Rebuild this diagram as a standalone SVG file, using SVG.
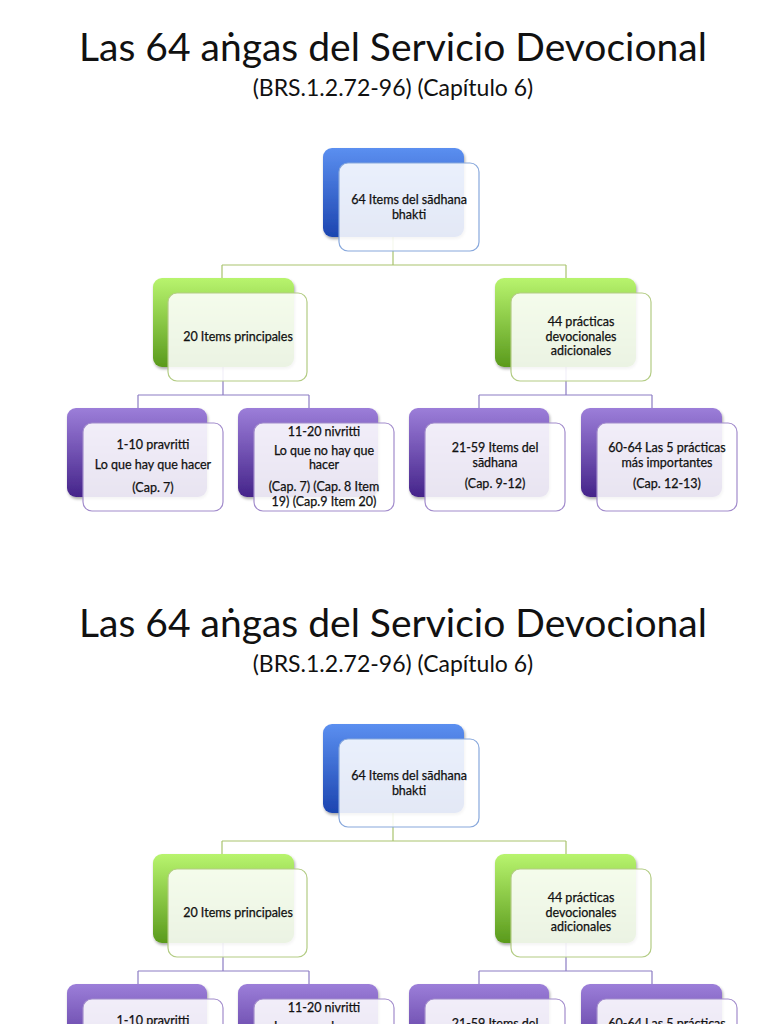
<svg xmlns="http://www.w3.org/2000/svg" width="768" height="1024" viewBox="0 0 768 1024">
<defs>
<linearGradient id="gBlue" x1="0" y1="0" x2="0" y2="1"><stop offset="0" stop-color="#5b8ff0"/><stop offset="1" stop-color="#1c45b0"/></linearGradient>
<linearGradient id="gGreen" x1="0" y1="0" x2="0" y2="1"><stop offset="0" stop-color="#b8f46e"/><stop offset="1" stop-color="#5a9a1c"/></linearGradient>
<linearGradient id="gPurple" x1="0" y1="0" x2="0" y2="1"><stop offset="0" stop-color="#9c7ed9"/><stop offset="1" stop-color="#45248a"/></linearGradient>
<filter id="sh" x="-10%" y="-10%" width="130%" height="130%"><feGaussianBlur in="SourceAlpha" stdDeviation="1.5"/><feOffset dx="1" dy="1.5"/><feComponentTransfer><feFuncA type="linear" slope="0.35"/></feComponentTransfer><feMerge><feMergeNode/><feMergeNode in="SourceGraphic"/></feMerge></filter>
</defs>
<style>
.title{font-family:"Lato","Liberation Sans",sans-serif;font-size:39px;fill:#111;text-anchor:middle}
.sub{font-family:"Lato","Liberation Sans",sans-serif;font-size:23px;fill:#111;text-anchor:middle}
.t{font-family:"Lato","Liberation Sans",sans-serif;font-size:12.5px;fill:#111;stroke:#111;stroke-width:0.25;text-anchor:middle}
.back{filter:url(#sh)}
.fb{fill:#ffffff;fill-opacity:0.88;stroke:#88a8dc;stroke-width:1.2}
.fg{fill:#ffffff;fill-opacity:0.88;stroke:#b3cc84;stroke-width:1.2}
.fp{fill:#ffffff;fill-opacity:0.88;stroke:#a28ccc;stroke-width:1.2}
.cg{fill:none;stroke:#a9c46e;stroke-width:1.2}
.cp{fill:none;stroke:#8c7cc4;stroke-width:1.2}
</style>
<rect width="768" height="1024" fill="#ffffff"/>

<!-- Copy 1 -->
<g id="copy1">
<text class="title" x="393" y="61">Las 64 aṅgas del Servicio Devocional</text>
<text class="sub" x="393" y="96">(BRS.1.2.72-96) (Capítulo 6)</text>
<g id="connectors1">
<path class="cg" d="M393 237V265M222 265H566M222 265V278M566 265V278"/>
<path class="cp" d="M223 367V395M138 395H309M138 395V408M309 395V408"/>
<path class="cp" d="M566 367V395M479 395H652M479 395V408M652 395V408"/>
</g>
<g id="n_root1"><rect class="back" x="323" y="148" width="141" height="89" rx="9" fill="url(#gBlue)"/><rect class="fb" x="339" y="163" width="140" height="88" rx="9"/>
<text class="t" x="409" y="204">64 Items del sādhana</text><text class="t" x="409" y="219">bhakti</text></g>
<g id="n_20_1"><rect class="back" x="153" y="278" width="141" height="89" rx="9" fill="url(#gGreen)"/><rect class="fg" x="168" y="293" width="139" height="88" rx="9"/>
<text class="t" x="238" y="341">20 Items principales</text></g>
<g id="n_44_1"><rect class="back" x="495" y="278" width="141" height="89" rx="9" fill="url(#gGreen)"/><rect class="fg" x="511" y="293" width="140" height="88" rx="9"/>
<text class="t" x="581" y="326">44 prácticas</text><text class="t" x="581" y="341">devocionales</text><text class="t" x="581" y="355">adicionales</text></g>
<g id="n_1_10_1"><rect class="back" x="67" y="408" width="140" height="89" rx="9" fill="url(#gPurple)"/><rect class="fp" x="83" y="423" width="140" height="88" rx="9"/>
<text class="t" x="153" y="449">1-10 pravritti</text><text class="t" x="153" y="469">Lo que hay que hacer</text><text class="t" x="153" y="492">(Cap. 7)</text></g>
<g id="n_11_20_1"><rect class="back" x="238" y="408" width="140" height="89" rx="9" fill="url(#gPurple)"/><rect class="fp" x="254" y="423" width="140" height="88" rx="9"/>
<text class="t" x="324" y="436">11-20 nivritti</text><text class="t" x="324" y="455">Lo que no hay que</text><text class="t" x="324" y="469">hacer</text><text class="t" x="324" y="491">(Cap. 7) (Cap. 8 Item</text><text class="t" x="324" y="506">19) (Cap.9 Item 20)</text></g>
<g id="n_21_59_1"><rect class="back" x="409" y="408" width="140" height="89" rx="9" fill="url(#gPurple)"/><rect class="fp" x="425" y="423" width="140" height="88" rx="9"/>
<text class="t" x="495" y="452">21-59 Items del</text><text class="t" x="495" y="467">sādhana</text><text class="t" x="495" y="488">(Cap. 9-12)</text></g>
<g id="n_60_64_1"><rect class="back" x="581" y="408" width="141" height="89" rx="9" fill="url(#gPurple)"/><rect class="fp" x="597" y="423" width="140" height="88" rx="9"/>
<text class="t" x="667" y="452">60-64 Las 5 prácticas</text><text class="t" x="667" y="467">más importantes</text><text class="t" x="667" y="488">(Cap. 12-13)</text></g>
</g>

<!-- Copy 2 -->
<g id="copy2" transform="translate(0,576)">
<text class="title" x="393" y="61">Las 64 aṅgas del Servicio Devocional</text>
<text class="sub" x="393" y="96">(BRS.1.2.72-96) (Capítulo 6)</text>
<g id="connectors2">
<path class="cg" d="M393 237V265M222 265H566M222 265V278M566 265V278"/>
<path class="cp" d="M223 367V395M138 395H309M138 395V408M309 395V408"/>
<path class="cp" d="M566 367V395M479 395H652M479 395V408M652 395V408"/>
</g>
<g id="n_root2"><rect class="back" x="323" y="148" width="141" height="89" rx="9" fill="url(#gBlue)"/><rect class="fb" x="339" y="163" width="140" height="88" rx="9"/>
<text class="t" x="409" y="204">64 Items del sādhana</text><text class="t" x="409" y="219">bhakti</text></g>
<g id="n_20_2"><rect class="back" x="153" y="278" width="141" height="89" rx="9" fill="url(#gGreen)"/><rect class="fg" x="168" y="293" width="139" height="88" rx="9"/>
<text class="t" x="238" y="341">20 Items principales</text></g>
<g id="n_44_2"><rect class="back" x="495" y="278" width="141" height="89" rx="9" fill="url(#gGreen)"/><rect class="fg" x="511" y="293" width="140" height="88" rx="9"/>
<text class="t" x="581" y="326">44 prácticas</text><text class="t" x="581" y="341">devocionales</text><text class="t" x="581" y="355">adicionales</text></g>
<g id="n_1_10_2"><rect class="back" x="67" y="408" width="140" height="89" rx="9" fill="url(#gPurple)"/><rect class="fp" x="83" y="423" width="140" height="88" rx="9"/>
<text class="t" x="153" y="449">1-10 pravritti</text></g>
<g id="n_11_20_2"><rect class="back" x="238" y="408" width="140" height="89" rx="9" fill="url(#gPurple)"/><rect class="fp" x="254" y="423" width="140" height="88" rx="9"/>
<text class="t" x="324" y="436">11-20 nivritti</text><text class="t" x="324" y="455">Lo que no hay que</text></g>
<g id="n_21_59_2"><rect class="back" x="409" y="408" width="140" height="89" rx="9" fill="url(#gPurple)"/><rect class="fp" x="425" y="423" width="140" height="88" rx="9"/>
<text class="t" x="495" y="452">21-59 Items del</text></g>
<g id="n_60_64_2"><rect class="back" x="581" y="408" width="141" height="89" rx="9" fill="url(#gPurple)"/><rect class="fp" x="597" y="423" width="140" height="88" rx="9"/>
<text class="t" x="667" y="452">60-64 Las 5 prácticas</text></g>
</g>
</svg>
